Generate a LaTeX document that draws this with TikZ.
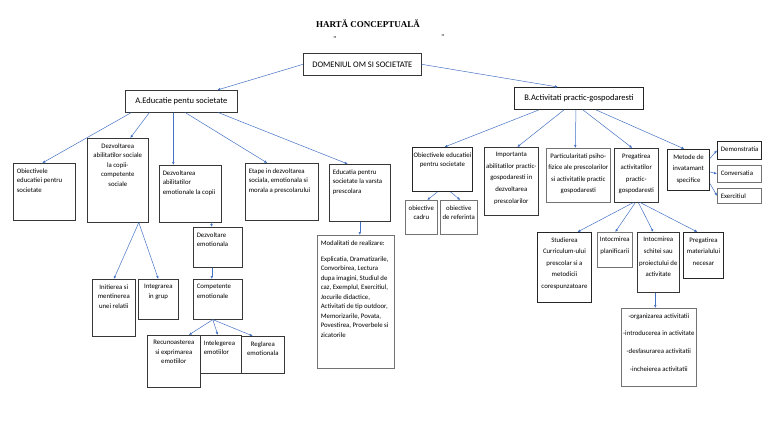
\documentclass[tikz,border=0pt]{standalone}
\usepackage{fontspec}
\setmainfont{Carlito}
\newfontfamily\titlefont{Liberation Serif}
\usepackage{xcolor}
\usetikzlibrary{arrows.meta}
\definecolor{arrblue}{RGB}{68,114,196}
\definecolor{boxline}{RGB}{55,55,55}

\begin{document}
\begin{tikzpicture}[
    x=1pt, y=-1pt,
    rt/.style={draw=boxline, line width=.6pt, inner sep=0pt, anchor=north west,
      font=\fontsize{8.5}{10}\selectfont},
    bc/.style 2 args={draw=boxline, line width=.6pt, inner sep=0pt, anchor=north west,
      font=\fontsize{6.8}{9.5}\selectfont,
      execute at begin node={\begin{minipage}[c][#2][t]{#1}\centering\vspace*{5pt}},
      execute at end node={\end{minipage}}},
    bl/.style 2 args={draw=boxline, line width=.6pt, inner sep=0pt, anchor=north west,
      font=\fontsize{6.8}{9.5}\selectfont,
      execute at begin node={\begin{minipage}[c][#2][t]{#1}\raggedright\leftskip=3.5pt\vspace*{5pt}},
      execute at end node={\end{minipage}}},
    thk/.style={line width=.9pt, draw=black!85},
    thn/.style={draw=black!55},
    wide/.style={font=\fontsize{6.8}{11.6}\selectfont},
    qm/.style={font=\titlefont\fontsize{7}{8}\selectfont, inner sep=0pt},
    ed/.style={arrblue, line width=.5pt, -{Latex[length=3pt,width=2.6pt]}}
  ]
    \useasboundingbox (0,0) rectangle (768,433);
    % ---- title and root ----
    \node[font=\titlefont\fontsize{9}{11}\selectfont\bfseries, inner sep=0pt] (title) at (368,24) {HARTĂ CONCEPTUALĂ};
    \node[qm] (ql) at (335,38) {„};
    \node[qm] (qr) at (443,37) {”};
    \node[rt, minimum width=118pt, minimum height=22pt] (root) at (303,53) {DOMENIUL OM SI SOCIETATE};
    \node[rt, minimum width=112pt, minimum height=22pt] (A) at (125,90) {A.Educatie pentu societate};
    \node[rt, thk, minimum width=129pt, minimum height=22pt] (B) at (514,87) {B.Activitati practic-gospodaresti};
    \draw[ed] (root.west) -- ([xshift=36pt]A.north);
    \draw[ed] (root.east) -- ([xshift=-21pt]B.north);
    % ---- A: educatie pentru societate ----
    \node[bl={62pt}{57pt}] (aobj) at (13,163) {Obiectivele\\educatiei pentru\\societate};
    \node[bc={61pt}{84pt}] (asoc) at (87,138) {Dezvoltarea\\abilitatilor sociale\\la copii-\\competente\\sociale};
    \node[bl={62pt}{57pt}] (aemo) at (159,165) {Dezvoltarea\\abilitatilor\\emotionale la copii};
    \node[bl={73pt}{57pt}] (aeta) at (245,163) {Etape in dezvoltarea\\sociala, emotionala si\\morala a prescolarului};
    \node[bl={61pt}{57pt}] (aedu) at (329,164) {Educatia pentru\\societate la varsta\\prescolara};
    \draw[ed] ([xshift=-50pt]A.south) -- ([xshift=-2pt]aobj.north);
    \draw[ed] ([xshift=-32pt]A.south) -- ([xshift=12.5pt]asoc.north);
    \draw[ed] ([xshift=-8pt]A.south) -- ([xshift=-17pt]aemo.north);
    \draw[ed] ([xshift=4pt]A.south) -- ([xshift=-14.5pt]aeta.north);
    \draw[ed] ([xshift=37pt]A.south) -- ([xshift=-12pt]aedu.north);
    \node[bc={43pt}{57pt}] (arel) at (92,279) {Initierea si\\mentinerea\\unei relatii};
    \node[bc={40pt}{40pt}] (agrp) at (138,279) {Integrarea\\in grup};
    \draw[ed] ([xshift=21pt]asoc.south) -- (arel.north);
    \draw[ed] ([xshift=21pt]asoc.south) -- (agrp.north);
    \node[bl={49pt}{40pt}] (adez) at (193,227) {Dezvoltare\\emotionala};
    \node[bl={49pt}{40pt}] (acom) at (193,279) {Competente\\emotionale};
    \draw[ed] ([xshift=21pt]aemo.south) -- ([xshift=-6pt]adez.north);
    \draw[ed] ([xshift=-6pt]adez.south) -- ([xshift=-6pt]acom.north);
    \node[bc={53pt}{52pt}] (arec) at (147,335) {Recunoasterea\\si exprimarea\\emotiilor};
    \node[bl={41pt}{38pt}] (aint) at (200,335) {Intelegerea\\emotiilor};
    \node[bc={43pt}{37pt}] (areg) at (241,336) {Reglarea\\emotionala};
    \draw[ed] ([xshift=-5pt]acom.south) -- ([xshift=15pt]arec.north);
    \draw[ed] ([xshift=-5pt]acom.south) -- ([xshift=-3pt]aint.north);
    \draw[ed] ([xshift=-5pt]acom.south) -- ([xshift=-10pt]areg.north);
    \node[bl={77pt}{133pt}, thn] (amod) at (317,235) {Modalitati de realizare:\\[6.5pt]
      Explicatia, Dramatizarile,\\Convorbirea, Lectura\\dupa imagini, Studiul de\\
      caz, Exemplul, Exercitiul,\\Jocurile didactice,\\Activitati de tip outdoor,\\
      Memorizarile, Povata,\\Povestirea, Proverbele si\\zicatorile};
    \draw[ed] (aedu.south) -- (aedu.south |- amod.north);
    % ---- B: activitati practic-gospodaresti ----
    \node[bc={60pt}{44pt}, thk] (bobj) at (412,147) {Obiectivele educatiei\\pentru societate};
    \node[bc={54pt}{68pt}, wide] (bimp) at (484,147) {Importanta\\abilitatilor practic-\\gospodaresti in\\dezvoltarea\\prescolarilor};
    \node[bc={64pt}{54pt}, wide, thn] (bpar) at (546,148) {Particularitati psiho-\\fizice ale prescolarilor\\si activitatile practic\\gospodaresti};
    \node[bc={44pt}{54pt}, wide] (bpre) at (614,148) {Pregatirea\\activitatilor\\practic-\\gospodaresti};
    \node[bc={42pt}{41pt}, wide, thk] (bmet) at (667,149) {Metode de\\invatamant\\specifice};
    \draw[ed] ([xshift=-40pt]B.south) -- ([xshift=2pt]bobj.north);
    \draw[ed] ([xshift=-15pt]B.south) -- ([xshift=6pt]bimp.north);
    \draw[ed] ([xshift=-3pt]B.south) -- ([xshift=-3pt]bpar.north);
    \draw[ed] ([xshift=4pt]B.south) -- ([xshift=-4pt]bpre.north);
    \draw[ed] ([xshift=17pt]B.south) -- ([xshift=-4pt]bmet.north);
    \node[bc={32pt}{34pt}, thn] (bcad) at (405,200) {obiective\\cadru};
    \node[bc={37pt}{34pt}, thn] (bref) at (440,200) {obiective\\de referinta};
    \draw[ed] ([xshift=-5pt]bobj.south) -- ([xshift=6pt]bcad.north);
    \draw[ed] ([xshift=8pt]bobj.south) -- ([xshift=1.5pt]bref.north);
    \node[bl={44pt}{18pt}, thk] (bdem) at (717,141) {Demonstratia};
    \node[bl={44pt}{17pt}, thn] (bcon) at (717,165) {Conversatia};
    \node[bl={44pt}{15pt}, thn] (bexe) at (717,188) {Exercitiul};
    \draw[ed] ([yshift=11.5pt]bmet.east) -- (bdem.west);
    \draw[ed] ([yshift=-2pt]bmet.east) -- (bcon.west);
    \draw[ed] ([yshift=-13.5pt]bmet.east) -- (bexe.west);
    % ---- pregatirea activitatii ----
    \node[bc={54pt}{70pt}, wide, thk] (bstu) at (537,232) {Studierea\\Curriculum-ului\\prescolar si a\\metodicii\\corespunzatoare};
    \node[bc={35pt}{35pt}, wide, thn] (bpla) at (597,232) {Intocmirea\\planificarii};
    \node[bc={42pt}{60pt}, wide] (bsch) at (637,232) {Intocmirea\\schitei sau\\proiectului de\\activitate};
    \node[bc={40pt}{46pt}, wide, thk] (bmat) at (683,232) {Pregatirea\\materialului\\necesar};
    \draw[ed] ([xshift=-3pt]bpre.south) -- ([xshift=13pt]bstu.north);
    \draw[ed] ([xshift=-1pt]bpre.south) -- ([xshift=.5pt]bpla.north);
    \draw[ed] ([xshift=2pt]bpre.south) -- ([xshift=-5pt]bsch.north);
    \draw[ed] ([xshift=4pt]bpre.south) -- ([xshift=-6pt]bmat.north);
    \node[bc={75pt}{78pt}, thn, font=\fontsize{6.8}{17.7}\selectfont] (bfin) at (621,308)
      {-organizarea activitatii\\-introducerea in activitate\\-desfasurarea activitatii\\-incheierea activitatii};
    \draw[ed] ([xshift=-3pt]bsch.south) -- ([xshift=-3pt]bsch.south |- bfin.north);
  \end{tikzpicture}
\end{document}
